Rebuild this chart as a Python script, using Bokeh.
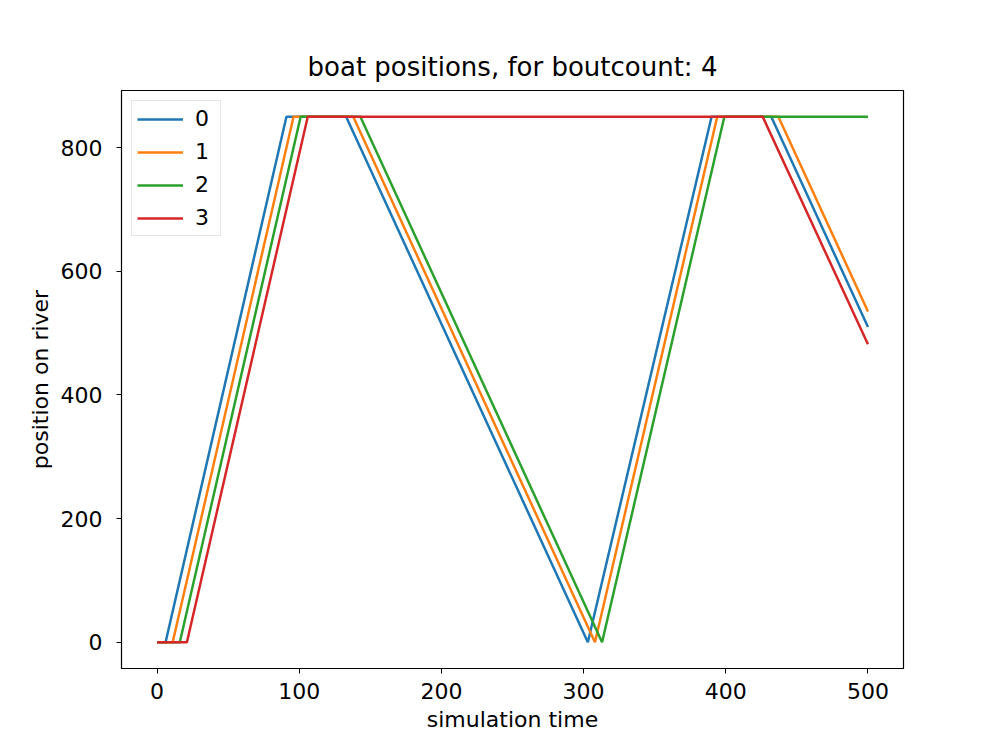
from bokeh.plotting import figure
from bokeh.models import Range1d, Legend, LegendItem, FixedTicker
from bokeh.embed import file_html
from bokeh.resources import INLINE

# boat position series (time, position)
t0 = [0, 6, 91, 133, 303, 390, 432, 500]
y0 = [0, 0, 850, 850, 0, 850, 850, 510]
t1 = [0, 11, 96, 138, 308, 394, 437, 500]
y1 = [0, 0, 850, 850, 0, 850, 850, 535]
t2 = [0, 16, 101, 143, 313, 399, 500]
y2 = [0, 0, 850, 850, 0, 850, 850]
t3 = [0, 21, 106, 426, 500]
y3 = [0, 0, 850, 850, 482]

labels = ["0", "1", "2", "3"]
colors = ["#1f77b4", "#ff7f0e", "#2ca02c", "#d62728"]
xticks = [0, 100, 200, 300, 400, 500]
yticks = [0, 200, 400, 600, 800]

FONT = "DejaVu Sans"

p = figure(width=984, height=734, output_backend="svg", toolbar_location=None,
           x_range=Range1d(-25, 525), y_range=Range1d(-42.5, 892.5),
           title="boat positions, for boutcount: 4",
           min_border_left=121, min_border_right=81, min_border_top=90, min_border_bottom=62)

p.title.align = "center"
p.title.text_font = FONT
p.title.text_font_size = "26px"
p.title.text_font_style = "normal"
p.title.text_color = "black"
p.title.offset = 0
p.title.standoff = 18

p.grid.visible = False
p.outline_line_color = "black"
p.outline_line_width = 1.2
p.background_fill_color = "white"
p.border_fill_color = "white"

p.xaxis.ticker = FixedTicker(ticks=xticks)
p.yaxis.ticker = FixedTicker(ticks=yticks)
for ax in (p.xaxis, p.yaxis):
    ax.major_label_text_font = FONT
    ax.major_label_text_font_size = "22px"
    ax.major_label_text_color = "black"
    ax.axis_label_text_font = FONT
    ax.axis_label_text_font_size = "22px"
    ax.axis_label_text_font_style = "normal"
    ax.axis_label_text_color = "black"
    ax.minor_tick_line_color = None
    ax.major_tick_out = 5
    ax.major_tick_in = 0
    ax.major_tick_line_color = "black"
    ax.axis_line_color = "black"
p.xaxis.major_label_standoff = 9
p.yaxis.major_label_standoff = 14
p.xaxis.axis_label = "simulation time"
p.yaxis.axis_label = "position on river"
p.xaxis.axis_label_standoff = 5
p.yaxis.axis_label_standoff = 5

items = []
for t, y, lab, c in zip([t0, t1, t2, t3], [y0, y1, y2, y3], labels, colors):
    r = p.line(t, y, line_color=c, line_width=2.5)
    items.append(LegendItem(label=lab, renderers=[r]))

legend = Legend(items=items, location="top_left")
legend.label_text_font = FONT
legend.label_text_font_size = "22px"
legend.label_text_color = "black"
legend.glyph_width = 46
legend.glyph_height = 22
legend.label_standoff = 12
legend.label_height = 22
legend.spacing = 8
legend.padding = 5
legend.margin = 10
legend.border_line_color = "#cccccc"
legend.border_line_width = 1
legend.background_fill_alpha = 0.8
p.add_layout(legend)

open("out.html", "w").write(file_html(p, INLINE))
